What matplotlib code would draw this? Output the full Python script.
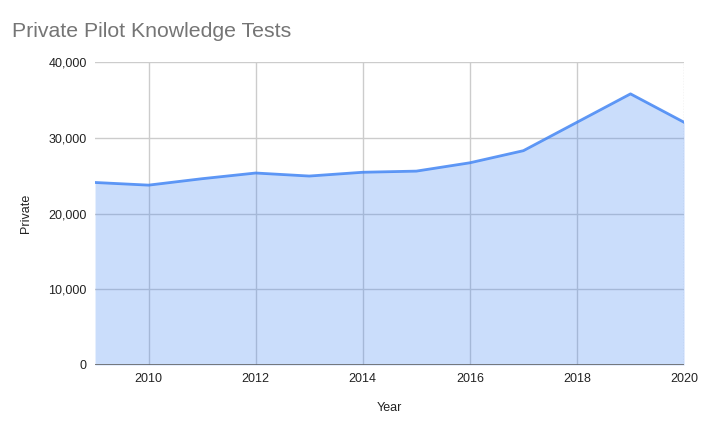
import matplotlib
matplotlib.use('Agg')

import matplotlib.pyplot as plt
from matplotlib.ticker import FuncFormatter

# ============================================================
# DATA
# ============================================================

years = [2009, 2010, 2011, 2012, 2013, 2014, 2015, 2016, 2017, 2018, 2019, 2020]
private_tests = [24100, 23750, 24600, 25350, 24950, 25450, 25600, 26700, 28300, 32050, 35800, 32050]

x_ticks = [2010, 2012, 2014, 2016, 2018, 2020]
y_ticks = [0, 10000, 20000, 30000, 40000]

# ============================================================
# PLOT
# ============================================================

plt.rcParams['font.family'] = ['Liberation Sans', 'DejaVu Sans']

fig = plt.figure(figsize=(7.05, 4.34), dpi=100, facecolor='white')
ax = fig.add_axes([0.1348, 0.159, 0.8355, 0.698])

line_color = '#4285f4'

ax.fill_between(years, private_tests, 0, color=line_color, alpha=0.28, linewidth=0, zorder=3)
ax.plot(years, private_tests, color=line_color, linewidth=2, alpha=0.85, zorder=4)

ax.set_xlim(2009, 2020)
ax.set_ylim(0, 40000)
ax.set_xticks(x_ticks)
ax.set_yticks(y_ticks)
ax.yaxis.set_major_formatter(FuncFormatter(lambda v, p: f"{int(v):,}"))

ax.grid(color='#cccccc', linewidth=1, zorder=0)
ax.set_axisbelow(True)

# right edge gridline is dotted in the reference
ax.get_xgridlines()[-1].set_linestyle((0, (1, 1)))

for name, spine in ax.spines.items():
    spine.set_visible(False)
ax.axhline(0, color='#666666', linewidth=1.2, zorder=5)

ax.tick_params(length=0, labelsize=9, colors='#222222', pad=6)

ax.set_xlabel('Year', fontsize=9, color='#222222', labelpad=12)
ax.set_ylabel('Private', fontsize=9, color='#222222', labelpad=12)

fig.text(0.017, 0.915, 'Private Pilot Knowledge Tests', fontsize=15.3, color='#757575', ha='left', va='baseline')

plt.savefig('out.png', dpi=100, facecolor='white')
plt.close()
